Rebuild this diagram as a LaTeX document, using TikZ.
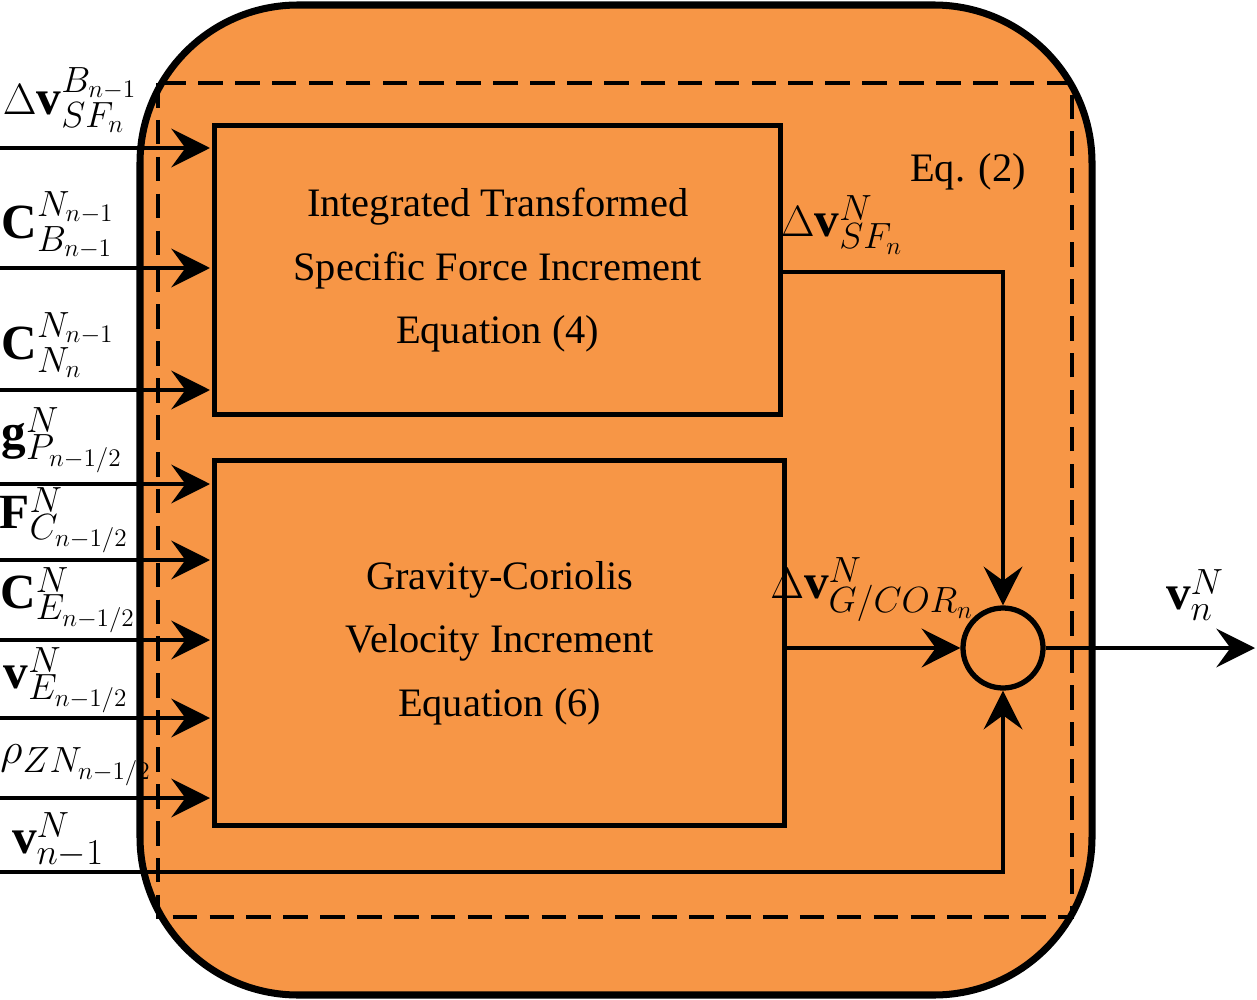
\documentclass[tikz,border=0pt]{standalone}
\usepackage{fontspec}
\setmainfont{Liberation Serif}
\usetikzlibrary{arrows.meta}
\definecolor{org}{RGB}{247,150,70}
\tikzset{
 blk/.style={draw,line width=3pt},
 wire/.style={line width=2.2pt},
 arr/.style={wire,-{Stealth[length=22pt,width=22pt,inset=8pt]}},
 lab/.style={font=\fontsize{28}{28}\selectfont,inner sep=0pt},
 txt/.style={font=\fontsize{23}{36}\selectfont,align=center}
}
\begin{document}
\begin{tikzpicture}[x=0.02cm,y=-0.02cm]
\useasboundingbox (0,0) rectangle (1257,1000);
\draw[line width=4pt,fill=org,rounded corners=90] (140,5) rectangle (1092,995);
\draw[line width=2.2pt,dash pattern=on 14pt off 7pt] (158,83) rectangle (1072,917);
\node[blk,minimum width=566*0.02cm,minimum height=289*0.02cm,txt,anchor=north west] (b1) at (212,123) {Integrated Transformed\\Specific Force Increment\\Equation (4)};
\node[blk,minimum width=570*0.02cm,minimum height=365*0.02cm,txt,anchor=north west] (b2) at (212,458) {Gravity-Coriolis\\Velocity Increment\\Equation (6)};
\node[draw,line width=3pt,circle,minimum size=80*0.02cm,inner sep=0pt] (s) at (1003,648) {};
\foreach \y/\n in {148/i1,268/i2,390/i3,484/i4,560/i5,640/i6,718/i7,798/i8}{
 \coordinate (\n) at (0,\y);
 \draw[arr] (\n) -- (210,\y);
}
\coordinate (i9) at (0,872);
\draw[arr] (i9) -| (s.south);
\draw[arr] (b1.east |- 0,272) -| (s.north);
\draw[arr] (b2.east |- s.west) -- (s.west);
\coordinate (out) at (1255,648);
\draw[arr] (s.east) -- (out);
\node[lab] at (70,100) {$\Delta\mathbf{v}^{B_{n-1}}_{SF_n}$};
\node[lab] at (58,225) {$\mathbf{C}^{N_{n-1}}_{B_{n-1}}$};
\node[lab] at (58,345) {$\mathbf{C}^{N_{n-1}}_{N_n}$};
\node[lab] at (62,440) {$\mathbf{g}^{N}_{P_{n-1/2}}$};
\node[lab] at (64,520) {$\mathbf{F}^{N}_{C_{n-1/2}}$};
\node[lab] at (68,600) {$\mathbf{C}^{N}_{E_{n-1/2}}$};
\node[lab] at (66,680) {$\mathbf{v}^{N}_{E_{n-1/2}}$};
\node[lab] at (76,765) {$\rho_{ZN_{n-1/2}}$};
\node[lab] at (58,840) {$\mathbf{v}^{N}_{n-1}$};
\node[txt] at (968,172) {Eq. (2)};
\node[lab] at (842,225) {$\Delta\mathbf{v}^{N}_{SF_n}$};
\node[lab] at (872,590) {$\Delta\mathbf{v}^{N}_{G/COR_n}$};
\node[lab] at (1195,595) {$\mathbf{v}^{N}_{n}$};
\end{tikzpicture}
\end{document}
